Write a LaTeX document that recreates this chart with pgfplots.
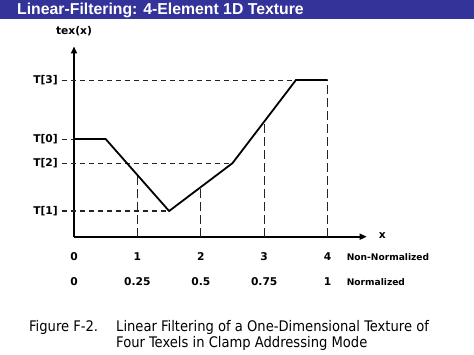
\documentclass[border=0pt]{standalone}
\usepackage{fontspec}
\setmainfont{DejaVu Sans}
\newfontfamily\titlefont{Liberation Sans}
\newfontfamily\capfont{DejaVu Sans Condensed}
\usepackage{pgfplots}
\pgfplotsset{compat=1.18}
\usetikzlibrary{arrows.meta}
\definecolor{banner}{RGB}{51,51,153}
\definecolor{dashgray}{RGB}{35,35,35}

\begin{document}
\begin{tikzpicture}[x=1pt,y=1pt]
\useasboundingbox (0,0) rectangle (474,355);
\fill[white] (0,0) rectangle (474,355);
\fill[banner] (0,336) rectangle (474,355);
\node[anchor=base west, text=white, font=\titlefont\bfseries\fontsize{15.8}{17}\selectfont, inner sep=0] at (17,340) {Linear-Filtering: 4-Element 1D Texture};
\begin{axis}[
  at={(74pt,118.3pt)}, anchor=south west,
  x=63.4pt, y=63.4pt,
  xmin=0, xmax=4.617, ymin=0, ymax=3.0,
  enlargelimits=false,
  axis lines=left,
  axis line style={line width=1.7pt, -{Triangle[length=7pt,width=6pt]}},
  clip=false,
  xtick={0,1,2,3,4}, xticklabels={0,1,2,3,4},
  extra x ticks={0,1,2,3,4}, extra x tick labels={0,0.25,0.5,0.75,1},
  extra x tick style={xticklabel style={yshift=-25pt}},
  ytick={0.405,1.16,1.54,2.47}, yticklabels={T[1],T[2],T[0],T[3]},
  major tick length=0pt,
  tick style={draw=none},
  ticklabel style={font=\bfseries\fontsize{10.7}{12}\selectfont, inner sep=0pt},
  xticklabel style={anchor=center, yshift=-20pt},
  yticklabel style={anchor=east, xshift=-16pt},
  xlabel={x}, ylabel={tex(x)},
  every axis x label/.style={at={(axis description cs:1,0)}, anchor=west, xshift=12pt, yshift=1pt, font=\bfseries\fontsize{10.7}{12}\selectfont, inner sep=0pt},
  every axis y label/.style={at={(axis description cs:0,1)}, anchor=south, yshift=10pt, font=\bfseries\fontsize{10.7}{12}\selectfont, inner sep=0pt},
]
% horizontal dashed guides
\addplot[dashgray, line width=1.1pt, dash pattern=on 5.5pt off 3.5pt] coordinates {(-0.19,2.47) (3.5,2.47)};
\addplot[dashgray, line width=1.1pt, dash pattern=on 5.5pt off 3.5pt] coordinates {(-0.19,1.54) (0,1.54)};
\addplot[dashgray, line width=1.1pt, dash pattern=on 5.5pt off 3.5pt] coordinates {(-0.19,1.16) (2.5,1.16)};
\addplot[dashgray, line width=1.1pt, dash pattern=on 5.5pt off 3.5pt] coordinates {(-0.19,0.405) (1.5,0.405)};
% vertical dashed guides
\addplot[dashgray, line width=1.2pt, dash pattern=on 9pt off 4pt] coordinates {(1,0) (1,0.9725)};
\addplot[dashgray, line width=1.2pt, dash pattern=on 9pt off 4pt] coordinates {(2,0) (2,0.7825)};
\addplot[dashgray, line width=1.2pt, dash pattern=on 9pt off 4pt] coordinates {(3,0) (3,1.815)};
\addplot[dashgray, line width=1.2pt, dash pattern=on 9pt off 4pt] coordinates {(4,0) (4,2.47)};
% filtered texture curve
\addplot[black, line width=1.8pt, line join=miter] coordinates {(0,1.54) (0.5,1.54) (1.5,0.405) (2.5,1.16) (3.5,2.47) (4,2.47)};
\node[anchor=west, inner sep=0pt, xshift=19pt, yshift=-20pt, font=\bfseries\fontsize{9.1}{11}\selectfont] at (axis cs:4,0) {Non-Normalized};
\node[anchor=west, inner sep=0pt, xshift=19pt, yshift=-45pt, font=\bfseries\fontsize{9.1}{11}\selectfont] at (axis cs:4,0) {Normalized};
\end{axis}
\node[anchor=base west, inner sep=0, font=\capfont\fontsize{14.6}{16}\selectfont] at (29,23.3) {Figure F-2.};
\node[anchor=base west, inner sep=0, font=\capfont\fontsize{14.6}{16}\selectfont] at (116,23.3) {Linear Filtering of a One-Dimensional Texture of};
\node[anchor=base west, inner sep=0, font=\capfont\fontsize{14.6}{16}\selectfont] at (116,7) {Four Texels in Clamp Addressing Mode};
\end{tikzpicture}
\end{document}
